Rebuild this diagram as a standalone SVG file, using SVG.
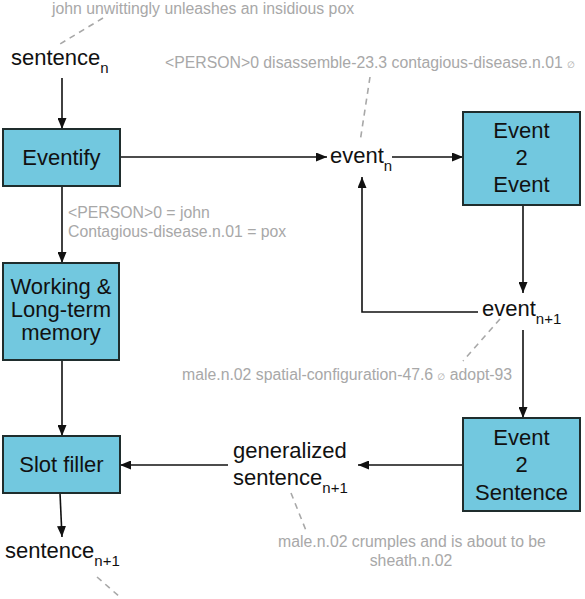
<svg xmlns="http://www.w3.org/2000/svg" width="585" height="599" viewBox="0 0 585 599">
<defs>
<style>
.box{fill:#72c8df;stroke:#1f2d2d;stroke-width:2}
.lbl{font-family:"Liberation Sans",Arial,sans-serif;font-size:22px;fill:#111}
.sub{font-size:15px}
.note{font-family:"Liberation Sans",Arial,sans-serif;font-size:15.8px;fill:#a8a8a8}
.empty{font-family:"DejaVu Sans",sans-serif;font-size:9px}
.edge{stroke:#111;stroke-width:1.6;fill:none}
.link{stroke:#a8a8a8;stroke-width:1.6;stroke-dasharray:6 5;fill:none}
</style>
<marker id="arr" markerUnits="userSpaceOnUse" markerWidth="11" markerHeight="9" refX="11" refY="4.5" orient="auto">
<path d="M0,0 L11,4.5 L0,9 z" fill="#111"/>
</marker>
</defs>
<rect width="585" height="599" fill="#fff"/>

<g id="connectors">
<line class="edge" x1="62" y1="78" x2="62" y2="129" marker-end="url(#arr)"/>
<line class="edge" x1="120" y1="157" x2="327" y2="157" marker-end="url(#arr)"/>
<line class="edge" x1="392" y1="157" x2="463" y2="157" marker-end="url(#arr)"/>
<line class="edge" x1="523" y1="205" x2="523" y2="293" marker-end="url(#arr)"/>
<polyline class="edge" points="478,312 362,312 362,177" marker-end="url(#arr)"/>
<line class="edge" x1="523" y1="330" x2="523" y2="418" marker-end="url(#arr)"/>
<line class="edge" x1="463" y1="465" x2="358" y2="465" marker-end="url(#arr)"/>
<line class="edge" x1="228" y1="465" x2="120" y2="465" marker-end="url(#arr)"/>
<line class="edge" x1="62" y1="186" x2="62" y2="263" marker-end="url(#arr)"/>
<line class="edge" x1="62" y1="360" x2="62" y2="436" marker-end="url(#arr)"/>
<line class="edge" x1="60" y1="493" x2="62" y2="537" marker-end="url(#arr)"/>
<line class="link" x1="103" y1="18" x2="60" y2="44"/>
<line class="link" x1="370" y1="77" x2="360" y2="142"/>
<line class="link" x1="500" y1="319" x2="463" y2="361"/>
<line class="link" x1="291" y1="493" x2="307" y2="533"/>
<line class="link" x1="97" y1="577" x2="121" y2="598"/>
</g>

<g id="eventify">
<rect class="box" x="3" y="129" width="117" height="57"/>
<text class="lbl" x="61.5" y="165" text-anchor="middle">Eventify</text>
</g>

<g id="event2event">
<rect class="box" x="463" y="112" width="117" height="93"/>
<text class="lbl" x="521.5" y="138" text-anchor="middle">Event</text>
<text class="lbl" x="521.5" y="165" text-anchor="middle">2</text>
<text class="lbl" x="521.5" y="192" text-anchor="middle">Event</text>
</g>

<g id="memory">
<rect class="box" x="3" y="263" width="116" height="97"/>
<text class="lbl" x="61" y="294" text-anchor="middle">Working &amp;</text>
<text class="lbl" x="61" y="317" text-anchor="middle">Long-term</text>
<text class="lbl" x="61" y="340" text-anchor="middle">memory</text>
</g>

<g id="slotfiller">
<rect class="box" x="3" y="436" width="117" height="57"/>
<text class="lbl" x="61.5" y="472" text-anchor="middle">Slot filler</text>
</g>

<g id="event2sentence">
<rect class="box" x="463" y="418" width="117" height="93"/>
<text class="lbl" x="521.5" y="445" text-anchor="middle">Event</text>
<text class="lbl" x="521.5" y="472" text-anchor="middle">2</text>
<text class="lbl" x="521.5" y="500" text-anchor="middle">Sentence</text>
</g>

<g id="sentence-n">
<text class="lbl" x="11" y="65">sentence<tspan class="sub" dy="8">n</tspan></text>
</g>

<g id="event-n">
<text class="lbl" x="330" y="163">event<tspan class="sub" dy="8">n</tspan></text>
</g>

<g id="event-n1">
<text class="lbl" x="482" y="316">event<tspan class="sub" dy="8">n+1</tspan></text>
</g>

<g id="generalized-sentence">
<text class="lbl" x="233" y="458">generalized</text>
<text class="lbl" x="233" y="485">sentence<tspan class="sub" dy="8">n+1</tspan></text>
</g>

<g id="sentence-n1">
<text class="lbl" x="5" y="558">sentence<tspan class="sub" dy="8">n+1</tspan></text>
</g>

<g id="notes">
<text class="note" x="52" y="14">john unwittingly unleashes an insidious pox</text>
<text class="note" x="165" y="68">&lt;PERSON&gt;0 disassemble-23.3 contagious-disease.n.01 <tspan class="empty">∅</tspan></text>
<text class="note" x="68" y="218">&lt;PERSON&gt;0 = john</text>
<text class="note" x="68" y="237">Contagious-disease.n.01 = pox</text>
<text class="note" x="182" y="380">male.n.02 spatial-configuration-47.6 <tspan class="empty">∅</tspan> adopt-93</text>
<text class="note" x="412" y="547" text-anchor="middle">male.n.02 crumples and is about to be</text>
<text class="note" x="411" y="566" text-anchor="middle">sheath.n.02</text>
</g>
</svg>
